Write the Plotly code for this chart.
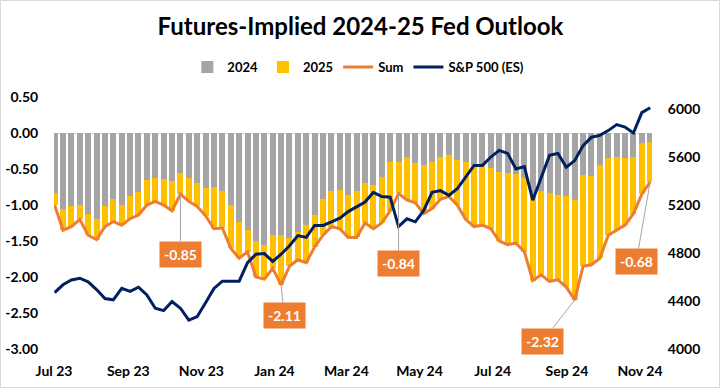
import pandas as pd
import plotly.graph_objects as go

# ---- data (weekly, week starting Monday) ----
week_start = pd.date_range("2023-07-03", periods=72, freq="7D")

fed_2024 = [-0.83, -1.05, -1.02, -1.00, -1.12, -1.20, -1.02, -0.92, -1.00, -0.88,
            -0.82, -0.65, -0.62, -0.64, -0.66, -0.55, -0.63, -0.70, -0.77, -0.75,
            -0.81, -1.00, -1.23, -1.35, -1.50, -1.55, -1.42, -1.42, -1.46, -1.37,
            -1.28, -1.14, -0.91, -0.81, -0.79, -0.86, -0.81, -0.70, -0.72, -0.61,
            -0.40, -0.40, -0.33, -0.42, -0.44, -0.40, -0.33, -0.31, -0.38, -0.40,
            -0.44, -0.44, -0.49, -0.54, -0.55, -0.57, -0.62, -0.86, -0.81, -0.84,
            -0.86, -0.88, -0.93, -0.58, -0.60, -0.45, -0.35, -0.33, -0.35, -0.33,
            -0.14, -0.13]

fed_2025 = [-0.17, -0.30, -0.28, -0.20, -0.30, -0.28, -0.28, -0.31, -0.28, -0.31,
            -0.32, -0.35, -0.33, -0.36, -0.42, -0.30, -0.32, -0.32, -0.38, -0.58,
            -0.51, -0.60, -0.51, -0.30, -0.50, -0.48, -0.46, -0.69, -0.39, -0.39,
            -0.52, -0.44, -0.51, -0.49, -0.54, -0.59, -0.64, -0.55, -0.61, -0.64,
            -0.68, -0.44, -0.60, -0.55, -0.68, -0.65, -0.59, -0.57, -0.62, -0.80,
            -0.86, -0.84, -0.84, -0.96, -1.00, -0.96, -1.03, -1.19, -1.16, -1.22,
            -1.18, -1.26, -1.39, -1.27, -1.23, -1.29, -1.07, -1.02, -0.93, -0.79,
            -0.71, -0.55]

sp500 = [4470, 4535, 4575, 4590, 4560, 4495, 4420, 4410, 4505, 4480,
         4515, 4450, 4340, 4320, 4395, 4340, 4240, 4270, 4385, 4505,
         4565, 4565, 4565, 4720, 4790, 4795, 4730, 4790, 4860, 4945,
         4930, 5030, 5030, 5060, 5090, 5145, 5185, 5225, 5305, 5270,
         5265, 5020, 5085, 5060, 5155, 5305, 5320, 5280, 5335, 5435,
         5530, 5530, 5600, 5655, 5630, 5500, 5520, 5240, 5420, 5615,
         5630, 5515, 5570, 5695, 5765, 5780, 5820, 5870, 5850, 5800,
         5970, 6010]

fed_sum = [round(a + b, 2) for a, b in zip(fed_2024, fed_2025)]

labeled_weeks = [15, 27, 41, 62, 71]

x_tick_dates = ["2023-07-05", "2023-09-05", "2023-11-05", "2024-01-05", "2024-03-05",
                "2024-05-05", "2024-07-05", "2024-09-05", "2024-11-05"]
x_tick_labels = ["Jul 23", "Sep 23", "Nov 23", "Jan 24", "Mar 24",
                 "May 24", "Jul 24", "Sep 24", "Nov 24"]
y_tick_vals = [0.5, 0.0, -0.5, -1.0, -1.5, -2.0, -2.5, -3.0]
y_tick_labels = ["0.50", "0.00", "-0.50", "-1.00", "-1.50", "-2.00", "-2.50", "-3.00"]
y2_tick_vals = [4000, 4400, 4800, 5200, 5600, 6000]

# ---- figure ----
centers = week_start + pd.Timedelta(hours=60)   # middle of Mon-Fri block
bar_w = 5 * 24 * 3600 * 1000                      # Mon-Fri, weekend gap

FONT = "Lato"
fig = go.Figure()
fig.add_trace(go.Bar(x=centers, y=fed_2024, width=bar_w, name="2024",
                     marker=dict(color="#A5A5A5", line=dict(width=0))))
fig.add_trace(go.Bar(x=centers, y=fed_2025, width=bar_w, name="2025",
                     marker=dict(color="#FFC000", line=dict(width=0))))
fig.add_trace(go.Scatter(x=centers, y=fed_sum, name="Sum", mode="lines",
                         line=dict(color="#ED7D31", width=3)))
fig.add_trace(go.Scatter(x=centers, y=sp500, name="S&P 500 (ES)", mode="lines",
                         line=dict(color="#002060", width=3), yaxis="y2"))

offsets = [(0, 60), (3, 31), (0, 70), (-32, 41), (-14, 80)]
for i, (ax, ay) in zip(labeled_weeks, offsets):
    fig.add_annotation(x=centers[i], y=fed_sum[i], text=f"{fed_sum[i]:.2f}",
                       showarrow=True, arrowhead=0, arrowwidth=1, arrowcolor="#A6A6A6",
                       ax=ax, ay=ay, standoff=0, bgcolor="#ED7D31", borderpad=4,
                       font=dict(family=FONT, size=14, color="white", weight="bold"))

# outer chart border
L, R, T, B = 54, 69, 97, 40
W, H = 721, 389
pw, ph = W - L - R, H - T - B
fig.add_shape(type="rect", xref="paper", yref="paper",
              x0=-(L - 0.5) / pw, x1=1 + (R - 1.5) / pw,
              y0=-(B - 1.5) / ph, y1=1 + (T - 0.5) / ph,
              line=dict(color="#D9D9D9", width=1), layer="below")

fig.update_layout(
    width=W, height=H, margin=dict(l=L, r=R, t=T, b=B, autoexpand=False),
    paper_bgcolor="white", plot_bgcolor="white",
    barmode="relative", bargap=0,
    font=dict(family=FONT, size=14, color="black", weight="bold"),
    title=dict(text="Futures-Implied 2024-25 Fed Outlook", x=0.5, xanchor="center",
               xref="container", y=1 - 27 / H, yanchor="middle", yref="container",
               font=dict(family=FONT, size=24, color="black", weight="bold")),
    legend=dict(orientation="h", x=0.497, xanchor="center", xref="container",
                y=1 - 67 / H, yanchor="middle", yref="container",
                font=dict(family=FONT, size=13, color="black", weight="bold"),
                itemwidth=30, traceorder="normal", bgcolor="rgba(0,0,0,0)"),
    xaxis=dict(type="date", range=["2023-07-05", "2024-11-15"],
               tickvals=x_tick_dates, ticktext=x_tick_labels, automargin=False,
               showgrid=False, showline=False, zeroline=False,
               ticks="outside", ticklen=9, tickcolor="rgba(0,0,0,0)",
               tickfont=dict(family=FONT, size=14, color="black", weight="bold")),
    yaxis=dict(range=[-3.0, 0.5], tickvals=y_tick_vals, ticktext=y_tick_labels,
               automargin=False,
               showgrid=False, showline=False, zeroline=True,
               zerolinecolor="#D9D9D9", zerolinewidth=1,
               ticks="outside", ticklen=12, tickcolor="rgba(0,0,0,0)",
               tickfont=dict(family=FONT, size=14, color="black", weight="bold")),
    yaxis2=dict(range=[4000, 6100], tickvals=y2_tick_vals, overlaying="y", side="right",
                automargin=False,
                showgrid=False, showline=False, zeroline=False,
                ticks="outside", ticklen=12, tickcolor="rgba(0,0,0,0)",
                tickfont=dict(family=FONT, size=14, color="black", weight="bold")),
    showlegend=True,
)

fig.write_html("out.html", config={"displayModeBar": False},
               post_script="document.body.style.margin='0';")
